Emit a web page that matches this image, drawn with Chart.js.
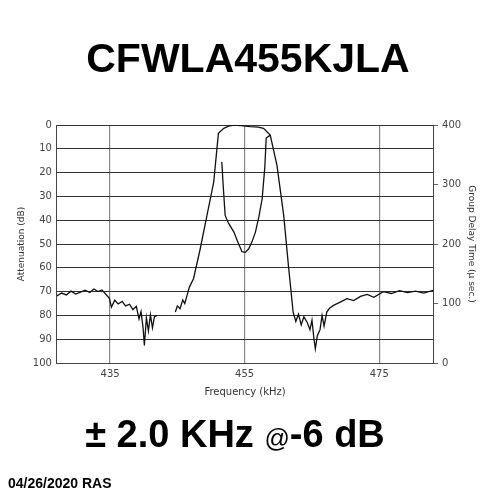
<!DOCTYPE html>
<html><head><meta charset="utf-8">
<script src="https://cdn.jsdelivr.net/npm/chart.js@4"></script>
<style>
html,body{margin:0;padding:0;background:#fff;}
#wrap{position:relative;width:500px;height:500px;}
canvas{position:absolute;left:0;top:0;}
.t{position:absolute;font-family:"Liberation Sans",Arial,sans-serif;font-weight:bold;color:#000;}
</style></head><body>
<div id="wrap">
<canvas id="c" width="500" height="500"></canvas>
<div class="t" style="left:0;width:496px;text-align:center;top:35px;font-size:41px;">CFWLA455KJLA</div>
<div class="t" style="left:0;width:470px;text-align:center;top:413px;font-size:38px;">± 2.0 KHz <span style="font-size:25px;font-weight:normal">@</span>-6 dB</div>
<div class="t" style="left:8px;top:475px;font-size:14px;">04/26/2020 RAS</div>
</div>
<script>
// Attenuation (dB) vs frequency (kHz)
const attFreqA = [427.1,427.8,428.5,429.2,429.9,430.6,431.3,432.0,432.6,433.2,433.8,434.4,434.9,435.2,435.7,436.2,436.8,437.3,437.9,438.4,438.9,439.3,439.6,439.9,440.1,440.4,440.7,441.0,441.3,441.6,442.0];
const attValA  = [71.8,70.6,71.4,69.8,71.0,70.2,69.4,70.4,68.9,70.0,69.3,71.2,72.8,76.5,73.6,75.2,74.1,76.0,75.3,77.6,76.2,81.5,78.4,85.0,92.6,81.0,86.5,79.8,85.2,80.5,80.0];
const attFreqB = [444.7,445.0,445.4,445.8,446.1,446.4,446.8,447.4,448.4,449.4,450.4,451.1,451.9,452.6,453.4,454.5,455.8,457.0,457.8,458.8,459.8,460.8,461.5,462.2,462.6,463.0,463.4,463.8,464.3,464.7,465.0,465.3,465.5,465.8,466.2,466.5,466.8,467.2,467.6,468.2,469.2,470.2,471.2,472.2,473.2,474.2,475.6,476.8,478.0,479.2,480.4,481.6,483.0];
const attValB  = [78.6,76.0,77.2,73.5,75.0,72.0,68.0,64.6,52.0,38.0,24.0,3.5,1.4,0.5,0.0,0.3,0.7,0.9,1.4,4.2,17.0,38.0,59.0,78.6,82.5,79.5,84.0,80.6,83.0,86.0,82.0,90.0,94.0,88.5,86.0,80.0,84.5,78.6,77.0,75.8,74.4,73.0,73.8,72.0,71.2,72.4,70.0,70.8,69.6,70.4,69.8,70.6,69.5];
// Group delay (µs) vs frequency (kHz)
const gdFreq = [451.6,451.8,452.1,452.6,453.4,454.0,454.6,455.1,455.6,456.1,456.6,457.1,457.6,458.0,458.2,458.8];
const gdVal  = [338,300,248,235,220,203,187,186,192,204,220,245,276,330,378,383];
// Tick labels
const xTicks = [435,455,475];
const leftTicks = [0,10,20,30,40,50,60,70,80,90,100];
const rightTicks = [0,100,200,300,400];

const pts=(xs,ys)=>xs.map((x,i)=>({x:x,y:ys[i]}));
const lineDs=(d,axis)=>({data:d,yAxisID:axis,showLine:true,borderColor:'#111',borderWidth:1.3,pointRadius:0,fill:false,tension:0});
const tickFont={family:'"DejaVu Sans",sans-serif',size:10};
new Chart(document.getElementById('c'),{
 type:'scatter',
 data:{datasets:[lineDs(pts(attFreqA,attValA),'y'),lineDs(pts(attFreqB,attValB),'y'),lineDs(pts(gdFreq,gdVal),'y2')]},
 options:{responsive:false,animation:false,
  layout:{padding:{top:125,bottom:98,left:15,right:22}},
  plugins:{legend:{display:false},tooltip:{enabled:false}},
  scales:{
   x:{type:'linear',min:427.1,max:483,
     afterBuildTicks:a=>{a.ticks=xTicks.map(v=>({value:v}));},
     grid:{color:'#888',lineWidth:1.2,drawTicks:false},border:{color:'#444'},
     ticks:{color:'#444',font:tickFont,padding:5},
     title:{display:true,text:'Frequency (kHz)',color:'#333',font:tickFont,padding:{top:1}}},
   y:{reverse:true,min:0,max:100,
     afterBuildTicks:a=>{a.ticks=leftTicks.map(v=>({value:v}));},
     grid:{color:'#333',lineWidth:1,drawTicks:false},border:{color:'#444'},
     ticks:{color:'#444',font:tickFont,padding:5},
     title:{display:true,text:'Attenuation (dB)',color:'#333',font:{family:'"DejaVu Sans",sans-serif',size:9},padding:1}},
   y2:{position:'right',min:0,max:400,
     afterBuildTicks:a=>{a.ticks=rightTicks.map(v=>({value:v}));},
     grid:{drawOnChartArea:false,color:'#666',tickLength:5},border:{color:'#444'},
     ticks:{color:'#444',font:tickFont,padding:4},
     title:{display:true,text:'Group Delay Time (µ sec.)',color:'#333',font:{family:'"DejaVu Sans",sans-serif',size:9},padding:1}}
  }}
});
</script></body></html>
